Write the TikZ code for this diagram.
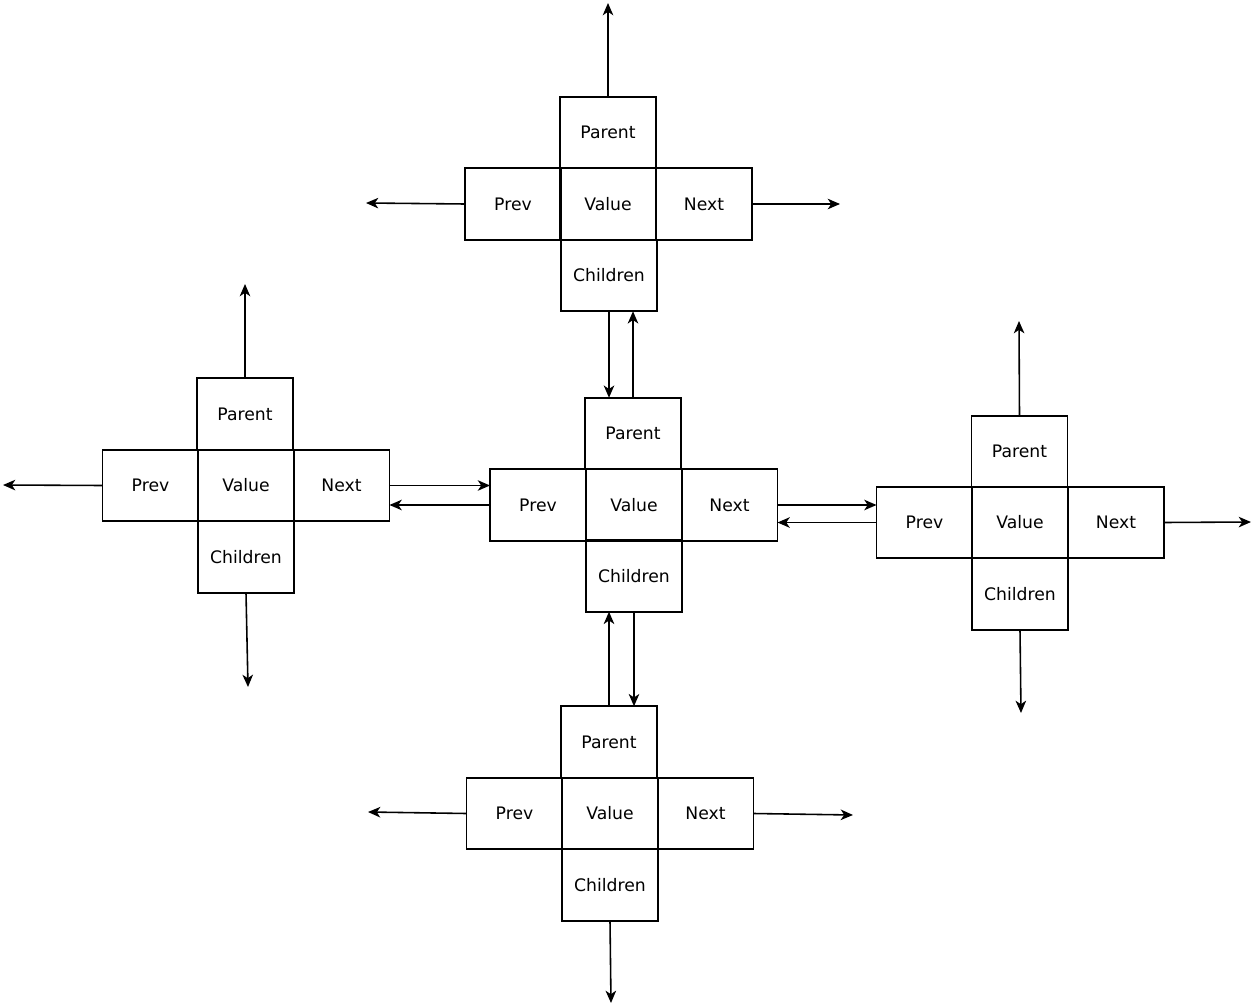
\documentclass[tikz,border=0pt]{standalone}
\usepackage{fontspec}
\setmainfont{DejaVu Sans}
\usepackage{tikz}
\usetikzlibrary{arrows.meta}

\begin{document}
\begin{tikzpicture}[x=0.02cm, y=-0.02cm, >={Stealth[length=7pt,width=6pt,inset=2pt]}]
	\tikzstyle{cell}=[rectangle, draw=black, line width=1pt, minimum width=1.92cm, minimum height=1.43cm, inner sep=0pt, outer sep=0pt, font=\fontsize{9.8}{12}\selectfont]
	\tikzstyle{link}=[->, line width=0.9pt]

	\useasboundingbox (0,0) rectangle (1255,1007);

	% NOEUD HAUT
	\node[cell] (tP) at (608,132.5) {Parent};
	\node[cell] (tPr) at (513,204) {Prev};
	\node[cell] (tV) at (608,204) {Value};
	\node[cell] (tN) at (704,204) {Next};
	\node[cell] (tC) at (609,275.5) {Children};

	% NOEUD CENTRE
	\node[cell] (cP) at (633,433.5) {Parent};
	\node[cell] (cPr) at (538,505) {Prev};
	\node[cell] (cV) at (634,505) {Value};
	\node[cell] (cN) at (729.5,505) {Next};
	\node[cell] (cC) at (634,576) {Children};

	% NOEUD GAUCHE
	\node[cell] (lP) at (245,414) {Parent};
	\node[cell] (lPr) at (150.5,485.5) {Prev};
	\node[cell] (lV) at (246,485.5) {Value};
	\node[cell] (lN) at (341.5,485.5) {Next};
	\node[cell] (lC) at (246,557) {Children};

	% NOEUD DROITE
	\node[cell] (rP) at (1019.5,451.5) {Parent};
	\node[cell] (rPr) at (924.5,522.5) {Prev};
	\node[cell] (rV) at (1020,522.5) {Value};
	\node[cell] (rN) at (1116,522.5) {Next};
	\node[cell] (rC) at (1020,594) {Children};

	% NOEUD BAS
	\node[cell] (bP) at (609,742) {Parent};
	\node[cell] (bPr) at (514.5,813.5) {Prev};
	\node[cell] (bV) at (610,813.5) {Value};
	\node[cell] (bN) at (705.5,813.5) {Next};
	\node[cell] (bC) at (610,885) {Children};

	% EXTREMITES LIBRES
	\coordinate (tPe) at (608,3);
	\coordinate (tPre) at (366,203);
	\coordinate (tNe) at (840,204);
	\coordinate (lPe) at (245,284);
	\coordinate (lPre) at (3,485);
	\coordinate (lCe) at (248,687);
	\coordinate (rPe) at (1019,321);
	\coordinate (rNe) at (1251,522);
	\coordinate (rCe) at (1021,713);
	\coordinate (bPre) at (368,812);
	\coordinate (bNe) at (853,815);
	\coordinate (bCe) at (611,1003);

	% FLECHES
	\draw[link] (tP.north) -- (tPe);
	\draw[link] (tPr.west) -- (tPre);
	\draw[link] (tN.east) -- (tNe);
	\draw[link] (tC.south) -- (tC.south |- cP.north);
	\draw[link] (cP.north) -- (cP.north |- tC.south);

	\draw[link] (lP.north) -- (lPe);
	\draw[link] (lPr.west) -- (lPre);
	\draw[link] (lC.south) -- (lCe);
	\draw[link] (lN.east) -- (lN.east -| cPr.west);
	\draw[link] (cPr.west) -- (cPr.west -| lN.east);

	\draw[link] (cN.east) -- (cN.east -| rPr.west);
	\draw[link] (rPr.west) -- (rPr.west -| cN.east);
	\draw[link] (rP.north) -- (rPe);
	\draw[link] (rN.east) -- (rNe);
	\draw[link] (rC.south) -- (rCe);

	\draw[link] (bP.north) -- (bP.north |- cC.south);
	\draw[link] (cC.south) -- (cC.south |- bP.north);
	\draw[link] (bPr.west) -- (bPre);
	\draw[link] (bN.east) -- (bNe);
	\draw[link] (bC.south) -- (bCe);
\end{tikzpicture}
\end{document}
